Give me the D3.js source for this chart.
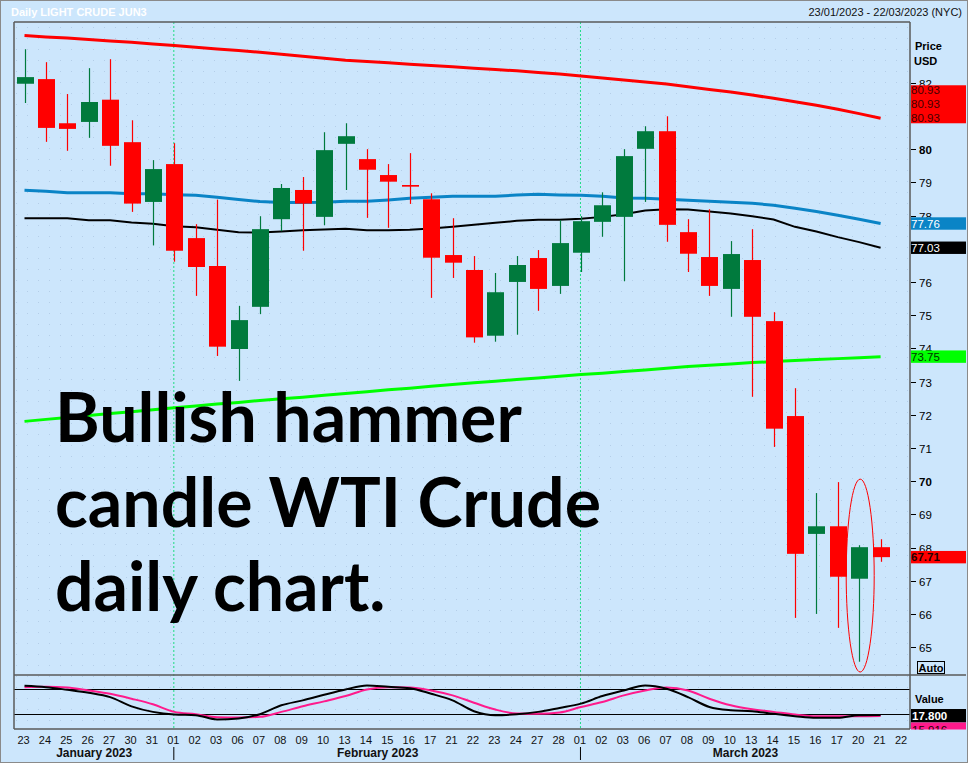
<!DOCTYPE html>
<html><head><meta charset="utf-8">
<script src="https://cdn.jsdelivr.net/npm/d3@7"></script>
<style>html,body{margin:0;padding:0;background:#cce6fc;overflow:hidden}</style>
</head><body>
<svg id="c" width="968" height="763"></svg>
<script>
const dateLabels = ["23","24","25","26","27","30","31","01","02","03","06","07","08","09","10","13","14","15","16","17","21","22","23","24","27","28","01","02","03","06","07","08","09","10","13","14","15","16","17","20","21","22"];
const months = [{name:"January 2023", start:0, end:7},{name:"February 2023", start:7, end:26},{name:"March 2023", start:26, end:42}];
const opens  = [81.97,82.11,80.78,80.82,81.49,80.21,78.41,79.55,77.32,76.48,73.98,75.25,77.89,78.77,77.96,80.16,79.70,79.22,78.92,78.49,76.81,76.36,74.38,76.00,76.72,75.88,76.88,77.81,77.96,80.01,80.54,77.50,76.75,75.79,76.66,74.82,71.96,68.41,68.64,67.06,68.01];
const highs  = [83.01,82.62,81.66,82.44,82.71,80.87,79.67,80.18,77.74,78.48,75.28,77.98,78.95,79.16,80.51,80.78,80.00,79.55,79.88,78.67,77.92,76.78,76.27,76.78,76.96,77.86,77.98,78.70,80.00,80.69,80.99,77.89,78.19,77.23,77.59,75.09,72.80,69.64,69.97,68.07,68.25];
const lows   = [81.39,80.22,79.95,80.34,79.50,78.11,77.10,76.61,75.58,73.77,73.02,75.03,77.53,76.94,77.71,78.77,77.93,77.63,78.35,75.52,76.12,74.17,74.20,74.41,75.13,75.64,76.30,77.36,76.02,78.41,77.21,76.30,75.58,74.95,72.54,71.03,65.88,66.00,65.58,64.56,67.57];
const closes = [82.17,80.64,80.61,81.42,80.10,78.36,79.40,76.94,76.45,74.05,74.85,77.59,78.83,78.36,79.97,80.39,79.38,79.02,78.87,76.73,76.58,74.33,75.69,76.51,75.79,77.17,77.83,78.31,79.79,80.54,77.72,76.85,75.88,76.84,74.95,71.58,67.81,68.64,67.12,68.01,67.71];
const maRed   = [83.42,83.38,83.35,83.30,83.26,83.22,83.17,83.12,83.07,83.02,82.97,82.92,82.86,82.80,82.74,82.68,82.64,82.60,82.56,82.52,82.48,82.44,82.40,82.36,82.31,82.26,82.20,82.14,82.08,82.02,81.96,81.88,81.80,81.72,81.63,81.53,81.43,81.32,81.20,81.07,80.93];
const maBlue  = [78.76,78.73,78.69,78.69,78.69,78.66,78.66,78.63,78.61,78.55,78.48,78.42,78.39,78.39,78.40,78.43,78.43,78.47,78.52,78.55,78.58,78.58,78.58,78.62,78.64,78.62,78.61,78.58,78.53,78.52,78.49,78.46,78.43,78.40,78.37,78.31,78.22,78.12,78.01,77.89,77.76];
const maBlack = [77.92,77.92,77.92,77.86,77.86,77.79,77.75,77.68,77.65,77.57,77.50,77.49,77.52,77.56,77.58,77.60,77.56,77.56,77.57,77.61,77.66,77.72,77.78,77.84,77.87,77.87,77.90,77.96,78.04,78.15,78.19,78.18,78.12,78.06,77.98,77.88,77.66,77.52,77.35,77.20,77.03];
const maGreen = [71.80,71.86,71.92,71.98,72.04,72.09,72.15,72.21,72.26,72.32,72.37,72.43,72.48,72.53,72.59,72.64,72.69,72.75,72.80,72.86,72.91,72.96,73.01,73.06,73.11,73.16,73.21,73.25,73.30,73.35,73.40,73.45,73.49,73.53,73.57,73.60,73.63,73.66,73.69,73.72,73.75];
const stochK = [87.8,84.7,78.3,71.2,60.9,38.8,25.5,19.2,17.6,7.3,9.6,20.0,41.2,53.1,66.5,79.2,88.6,85.5,82.3,68.9,53.1,27.1,17.6,20.0,25.5,35.0,45.3,63.4,76.8,88.6,80.7,60.9,37.2,29.4,27.1,20.8,15.3,11.3,11.3,17.6,17.8];
const stochD = [84.7,85.5,83.9,76.8,68.9,57.0,43.6,25.5,20.0,12.9,12.1,13.6,25.5,38.8,50.7,63.4,79.2,84.7,83.9,76.8,65.0,47.5,31.0,21.6,20.8,24.0,37.2,49.1,65.0,76.8,83.9,76.8,57.0,41.2,31.7,25.5,19.2,15.3,15.3,15.3,15.916];
const priceTicks = [65,66,67,68,69,70,71,72,73,74,75,76,78,79,80,81,82];
const stochLevels = [20,80];
const titleText = "Daily LIGHT CRUDE JUN3";
const rangeText = "23/01/2023 - 22/03/2023 (NYC)";
const bigText = ["Bullish hammer","candle WTI Crude","daily chart."];

const svg = d3.select("#c");
const W = 968, H = 763;
const L = 14, R = 910, T = 22, MB = 675, OB = 729;
const BG = "#cce6fc";
const FONT = "'Liberation Sans', Arial, sans-serif";

const x = d3.scalePoint().domain(d3.range(dateLabels.length)).range([24.5, 902]);
const y = d3.scaleLinear().domain([64.16, 83.83]).range([MB, T]);
const yo = d3.scaleLinear().domain([-15.5, 113.8]).range([OB, MB]);

svg.append("rect").attr("width", W).attr("height", H).attr("fill", BG);

const defs = svg.append("defs");
const pat = defs.append("pattern").attr("id","dots").attr("width",11).attr("height",11).attr("patternUnits","userSpaceOnUse");
pat.append("rect").attr("x",5).attr("y",5).attr("width",1).attr("height",1).attr("fill","#a9c4df");
svg.append("rect").attr("x",L).attr("y",T).attr("width",R-L).attr("height",OB-T).attr("fill","url(#dots)").attr("opacity",0.7);
defs.append("clipPath").attr("id","mainClip").append("rect").attr("x",L).attr("y",T).attr("width",R-L).attr("height",MB-T);
defs.append("clipPath").attr("id","oscClip").append("rect").attr("x",L).attr("y",MB).attr("width",R-L).attr("height",OB-MB);
defs.append("clipPath").attr("id","axClip").append("rect").attr("x",R).attr("y",MB).attr("width",W-R).attr("height",OB-MB+0.5);

svg.append("rect").attr("x",0.5).attr("y",0.5).attr("width",W-1).attr("height",H-1).attr("fill","none").attr("stroke","#8a8a8a");

svg.append("text").attr("x",11).attr("y",16).text(titleText).attr("fill","#fff").attr("font-family",FONT).attr("font-size",11).attr("font-weight","bold");
svg.append("text").attr("x",962).attr("y",16).attr("text-anchor","end").text(rangeText).attr("fill","#111").attr("font-family",FONT).attr("font-size",11);

const sepIdx = months.slice(1).map(m => m.start);
svg.selectAll(".sep").data(sepIdx).join("line")
  .attr("x1", d => x(d)-0.5).attr("x2", d => x(d)-0.5).attr("y1", T).attr("y2", OB)
  .attr("stroke","#1fdc84").attr("stroke-width",1).attr("stroke-dasharray","2,2");

const main = svg.append("g").attr("clip-path","url(#mainClip)");
const line = arr => d3.line().x((d,i)=>x(i)).y(d=>y(d))(arr);
main.append("path").attr("d", line(maGreen)).attr("fill","none").attr("stroke","#00ff00").attr("stroke-width",3);
main.append("path").attr("d", line(maRed)).attr("fill","none").attr("stroke","#ff0000").attr("stroke-width",3);
main.append("path").attr("d", line(maBlue)).attr("fill","none").attr("stroke","#0a84c6").attr("stroke-width",3);
main.append("path").attr("d", line(maBlack)).attr("fill","none").attr("stroke","#000").attr("stroke-width",2);

const candles = opens.map((o,i)=>({i, o, h:highs[i], l:lows[i], c:closes[i]}));
const col = d => d.c >= d.o ? "#007a3d" : "#ff0000";
const cg = main.selectAll(".cd").data(candles).join("g");
cg.append("line").attr("x1",d=>Math.round(x(d.i))+0.5).attr("x2",d=>Math.round(x(d.i))+0.5)
  .attr("y1",d=>y(d.h)).attr("y2",d=>y(d.l)).attr("stroke",col).attr("stroke-width",1.2);
const bw = 17;
cg.append("rect").attr("x",d=>Math.round(x(d.i))-8).attr("width",bw)
  .attr("y",d=>y(Math.max(d.o,d.c))).attr("height",d=>Math.max(1.5, Math.abs(y(d.o)-y(d.c))))
  .attr("fill",col);

main.append("ellipse").attr("cx", x(39)+1).attr("cy", (y(70.06)+y(64.25))/2)
  .attr("rx", 14).attr("ry", (y(64.25)-y(70.06))/2).attr("fill","none").attr("stroke","#ff0000").attr("stroke-width",1);

svg.append("g").selectAll("text").data(bigText).join("text")
  .attr("x",55).attr("y",(d,i)=>442+i*84.5).text(d=>d)
  .attr("font-family","Lato, 'Open Sans', sans-serif").attr("font-weight","bold").attr("font-size",68).attr("fill","#000");

const osc = svg.append("g").attr("clip-path","url(#oscClip)");
osc.selectAll(".lvl").data(stochLevels).join("line").attr("x1",L).attr("x2",R).attr("y1",d=>Math.round(yo(d))+0.5).attr("y2",d=>Math.round(yo(d))+0.5).attr("stroke","#000").attr("stroke-width",1);
const oline = arr => d3.line().x((d,i)=>x(i)).y(d=>yo(d)).curve(d3.curveMonotoneX)(arr);
osc.append("path").attr("d",oline(stochD)).attr("fill","none").attr("stroke","#ff1a8c").attr("stroke-width",2);
osc.append("path").attr("d",oline(stochK)).attr("fill","none").attr("stroke","#000").attr("stroke-width",2);

const fr = svg.append("g").attr("stroke","#5a5a5a").attr("stroke-width",1.5).attr("fill","none");
fr.append("line").attr("x1",L).attr("x2",R).attr("y1",T).attr("y2",T);
fr.append("line").attr("x1",L).attr("x2",L).attr("y1",T).attr("y2",OB);
fr.append("line").attr("x1",R).attr("x2",R).attr("y1",T).attr("y2",OB);
fr.append("line").attr("x1",L).attr("x2",W-2).attr("y1",MB).attr("y2",MB);
fr.append("line").attr("x1",L).attr("x2",R).attr("y1",OB).attr("y2",OB);

const ax = svg.append("g").attr("transform",`translate(${R},0)`);
ax.append("text").attr("x",5).attr("y",50).text("Price").attr("font-family",FONT).attr("font-size",11).attr("font-weight","bold").attr("fill","#000");
ax.append("text").attr("x",4).attr("y",65).text("USD").attr("font-family",FONT).attr("font-size",11).attr("font-weight","bold").attr("fill","#000");
const tk = ax.selectAll(".tk").data(priceTicks.filter(p => y(p) > 75 && y(p) < MB-10)).join("g").attr("transform",d=>`translate(0,${Math.round(y(d))+0.5})`);
tk.append("line").attr("x1",1).attr("x2",6).attr("stroke","#000");
tk.append("text").attr("x",9).attr("dy","0.36em").text(d=>d).attr("font-family",FONT).attr("font-size",11.5)
  .attr("font-weight",d=>d%10===0?"bold":"normal").attr("fill","#000");

function priceBox(val, fill, txtCol, bold) {
  const yc = y(val);
  ax.append("rect").attr("x",1).attr("y",yc-6.2).attr("width",W-R-3).attr("height",12.4).attr("fill",fill);
  ax.append("text").attr("x",1).attr("y",yc).attr("dy","0.36em").text(val.toFixed(2)).attr("font-family",FONT).attr("font-size",11.5)
    .attr("font-weight",bold?"bold":"normal").attr("fill",txtCol);
}
// stacked red labels (three identical values)
{
  const yc = y(maRed[40]);
  ax.append("rect").attr("x",1).attr("y",yc-33).attr("width",W-R-3).attr("height",38).attr("fill","#ff0000");
  [-28,-14,0].forEach(off => {
    ax.append("text").attr("x",1).attr("y",yc+off).attr("dy","0.36em").text(maRed[40].toFixed(2))
      .attr("font-family",FONT).attr("font-size",11.5).attr("fill","#400");
  });
}
priceBox(maBlue[40], "#0a84c6", "#fff", false);
priceBox(maBlack[40], "#000", "#fff", false);
priceBox(maGreen[40], "#00ff00", "#030", false);
priceBox(closes[40], "#ff0000", "#200", true);

ax.append("rect").attr("x",7.5).attr("y",661.5).attr("width",27).attr("height",12).attr("fill","none").attr("stroke","#000");
ax.append("text").attr("x",21).attr("y",671.5).attr("text-anchor","middle").text("Auto").attr("font-family",FONT).attr("font-size",11).attr("font-weight","bold");

ax.append("text").attr("x",5).attr("y",703).text("Value").attr("font-family",FONT).attr("font-size",11).attr("font-weight","bold");
const oax = ax.append("g").attr("clip-path","url(#axClip)").attr("transform",`translate(${-R},0)`);
oax.append("rect").attr("x",R+1).attr("y",709).attr("width",W-R-3).attr("height",13.5).attr("fill","#000");
oax.append("text").attr("x",R+2).attr("y",716).attr("dy","0.36em").text(stochK[40].toFixed(3)).attr("font-family",FONT).attr("font-size",11.5).attr("font-weight","bold").attr("fill","#fff");
oax.append("rect").attr("x",R+1).attr("y",722.5).attr("width",W-R-3).attr("height",13).attr("fill","#ff1a8c");
oax.append("text").attr("x",R+2).attr("y",730).attr("dy","0.36em").text(stochD[40].toFixed(3)).attr("font-family",FONT).attr("font-size",11.5).attr("fill","#200");

svg.append("g").selectAll("text").data(dateLabels).join("text")
  .attr("x",(d,i)=>x(i)-1).attr("y",744).attr("text-anchor","middle").text(d=>d)
  .attr("font-family",FONT).attr("font-size",11).attr("fill","#111");
svg.append("g").selectAll("line").data(sepIdx).join("line")
  .attr("x1",d=>x(d)-0.5).attr("x2",d=>x(d)-0.5).attr("y1",747).attr("y2",760).attr("stroke","#000");
svg.append("g").selectAll("text").data(months).join("text")
  .attr("x",d=>{const a = d.start===0 ? L : x(d.start); const b = d.end>=dateLabels.length ? R : x(d.end); return (a+b)/2;})
  .attr("y",757).attr("text-anchor","middle").text(d=>d.name)
  .attr("font-family",FONT).attr("font-size",12).attr("font-weight","bold").attr("fill","#111");
</script>
</body></html>
